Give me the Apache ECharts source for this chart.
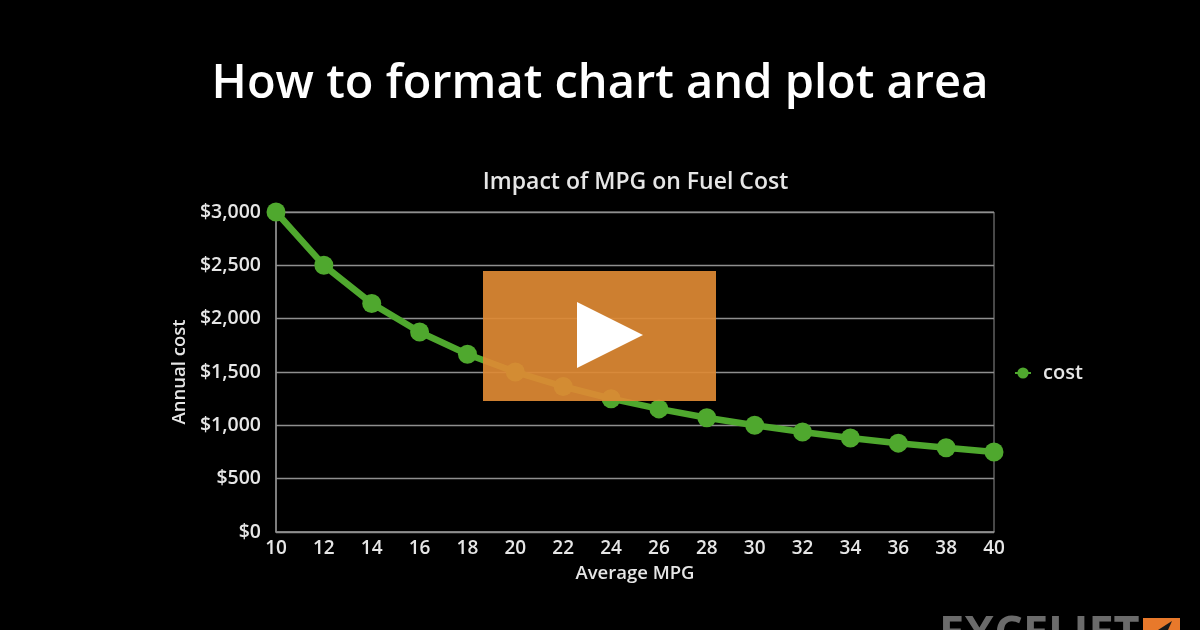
<!DOCTYPE html>
<html>
<head>
<meta charset="utf-8">
<script src="https://cdn.jsdelivr.net/npm/echarts@6/dist/echarts.min.js"></script>
<style>
  html, body { margin: 0; padding: 0; background: #000; }
  #chart { width: 1200px; height: 630px; }
</style>
</head>
<body>
<div id="chart"></div>
<script>
const mpg = [10, 12, 14, 16, 18, 20, 22, 24, 26, 28, 30, 32, 34, 36, 38, 40];
const cost = [3000, 2500, 2143, 1875, 1667, 1500, 1364, 1250, 1154, 1071, 1000, 938, 882, 833, 789, 750];
const seriesName = 'cost';

const FONT = '"Open Sans", sans-serif';
const GREEN = '#4fa82e', GRID = '#8f8f8f', INK = '#e6e6e6';

const chart = echarts.init(document.getElementById('chart'), null, { renderer: 'canvas' });
chart.setOption({
  backgroundColor: '#000',
  animation: false,
  textStyle: { fontFamily: FONT },
  title: {
    text: 'Impact of MPG on Fuel Cost', left: 630.5, top: 166, textAlign: 'center',
    textStyle: { color: INK, fontSize: 23, fontWeight: 600, fontFamily: FONT }
  },
  grid: { left: 276, right: 206, top: 212, bottom: 98, show: true, borderColor: GRID, borderWidth: 1, backgroundColor: 'transparent' },
  legend: {
    left: 1009, top: 358, itemWidth: 16, itemHeight: 14, itemGap: 0,
    data: [seriesName],
    textStyle: { color: INK, fontSize: 20, fontWeight: 600, fontFamily: FONT, padding: [0, 0, 0, 7] }
  },
  xAxis: {
    type: 'value', min: 10, max: 40, interval: 2,
    name: 'Average MPG', nameLocation: 'middle', nameGap: 32,
    nameTextStyle: { color: INK, fontSize: 18.5, fontWeight: 600, fontFamily: FONT },
    axisLabel: { color: INK, fontSize: 19, fontWeight: 600, margin: 7, fontFamily: FONT },
    axisLine: { lineStyle: { color: GRID, width: 1.5 } }, axisTick: { show: false },
    splitLine: { show: false }
  },
  yAxis: {
    type: 'value', min: 0, max: 3000, interval: 500,
    name: 'Annual cost', nameLocation: 'middle', nameGap: 82, nameRotate: 90,
    nameTextStyle: { color: INK, fontSize: 18.5, fontWeight: 600, fontFamily: FONT },
    axisLabel: { color: INK, fontSize: 19.5, fontWeight: 600, margin: 15, fontFamily: FONT,
      formatter: v => '$' + v.toLocaleString('en-US') },
    axisLine: { show: true, lineStyle: { color: GRID, width: 1.5 } }, axisTick: { show: false },
    splitLine: { lineStyle: { color: GRID, width: 1.4 } }
  },
  series: [{
    name: seriesName, type: 'line', smooth: false,
    data: mpg.map((m, i) => [m, cost[i]]),
    symbol: 'circle', symbolSize: 19, clip: false,
    lineStyle: { color: GREEN, width: 6.5 }, itemStyle: { color: GREEN }
  }],
  graphic: [
    { type: 'text', x: 600, y: 61, z: 50,
      style: { text: 'How to format chart and plot area', fill: '#fff', align: 'center', font: '600 47px ' + FONT } },
    { type: 'rect', z: 100, shape: { x: 483, y: 271, width: 233, height: 130 },
      style: { fill: 'rgba(222,138,52,0.92)' } },
    { type: 'polygon', z: 101, shape: { points: [[577, 302], [577, 368], [643, 335]] },
      style: { fill: '#fff' } },
    { type: 'text', z: 100, x: 939, y: 613,
      style: { text: 'EXCELJET', fill: '#6b6b6b', font: 'bold 45px ' + FONT } },
    { type: 'rect', z: 100, shape: { x: 1143, y: 618, width: 37, height: 14 },
      style: { fill: '#e8792b' } },
    { type: 'polygon', z: 101, shape: { points: [[1158, 630], [1172, 621], [1168, 630]] },
      style: { fill: '#1a1a1a' } }
  ]
});
</script>
</body>
</html>
